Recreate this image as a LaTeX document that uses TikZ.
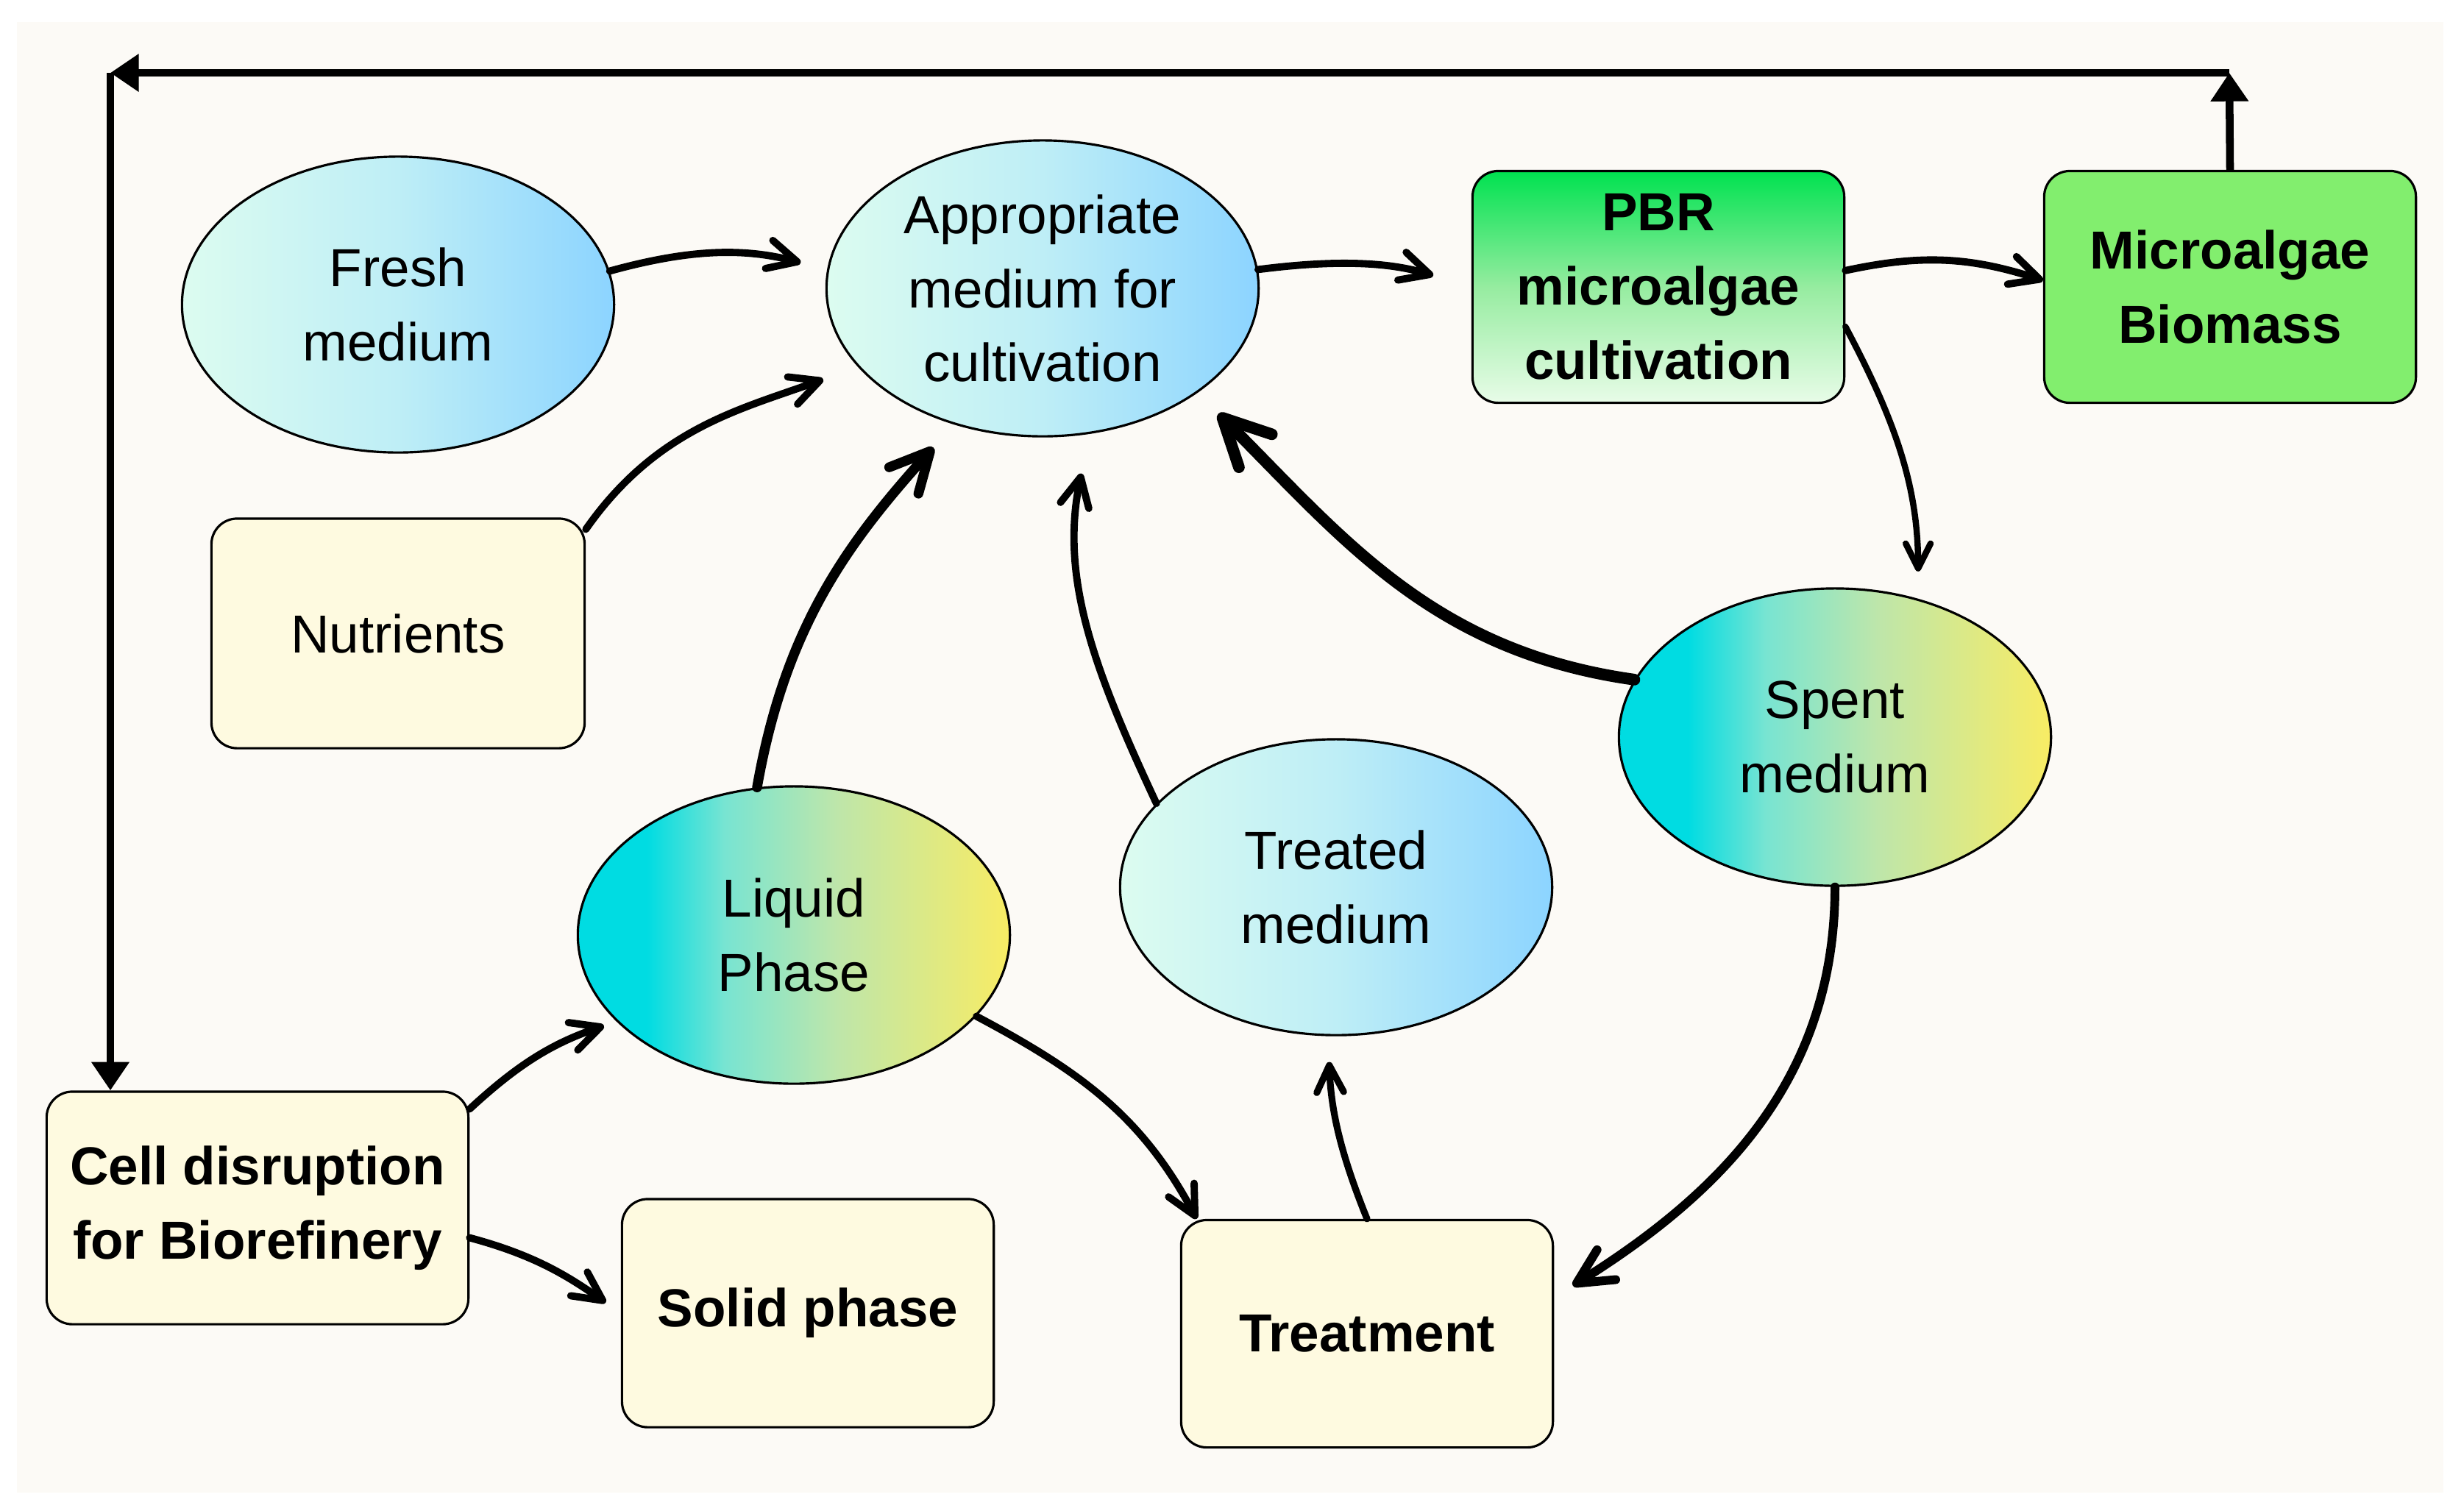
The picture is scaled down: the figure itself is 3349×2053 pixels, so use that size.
\documentclass[tikz,border=0pt]{standalone}
\usepackage{fontspec}
\setmainfont{Liberation Sans}
\usepackage{tikz}
\usetikzlibrary{arrows.meta, shapes.geometric}
\usepackage{xcolor}

\definecolor{bgpaper}{RGB}{252,250,246}
\definecolor{cream}{RGB}{254,250,224}
\definecolor{bioGreen}{RGB}{130,238,110}
\definecolor{pbrTop}{RGB}{0,226,80}
\definecolor{pbrMid}{RGB}{150,236,160}
\definecolor{pbrBot}{RGB}{232,252,232}
\definecolor{bubL}{RGB}{220,252,240}
\definecolor{bubM}{RGB}{190,238,246}
\definecolor{bubR}{RGB}{140,212,255}
\definecolor{spentA}{RGB}{0,220,226}
\definecolor{spentB}{RGB}{120,228,210}
\definecolor{spentC}{RGB}{190,230,170}
\definecolor{spentD}{RGB}{248,236,100}

\pgfdeclarehorizontalshading{spentshade}{100bp}{color(0bp)=(spentA); color(25bp)=(spentA); color(33bp)=(spentA); color(42bp)=(spentB); color(55bp)=(spentC); color(75bp)=(spentD); color(100bp)=(spentD)}

\begin{document}
\begin{tikzpicture}[x=0.01cm, y=-0.01cm,
    font=\fontsize{20.7}{28.7}\selectfont,
    bluebub/.style={ellipse, draw, line width=0.9pt, inner sep=0pt, align=center,
        minimum width=5.87cm, minimum height=4.02cm,
        left color=bubL, right color=bubR, middle color=bubM},
    spentbub/.style={ellipse, draw, line width=0.9pt, inner sep=0pt, align=center,
        minimum width=5.87cm, minimum height=4.04cm, shading=spentshade},
    creambox/.style={rectangle, rounded corners=0.35cm, draw, line width=0.9pt,
        inner sep=0pt, align=center, fill=cream,
        minimum width=5.05cm, minimum height=3.1cm},
    flow/.style={line width=2.8pt, line cap=round,
        -{Straight Barb[length=0pt 4, width=0pt 4, round]}},
    loopline/.style={line width=3pt, -{Triangle[length=11pt, width=14pt]}}]

    % Khung nen
    \useasboundingbox (0,0) rectangle (3349,2053);
    \fill[white] (0,0) rectangle (3349,2053);
    \fill[bgpaper] (23,30) rectangle (3321,2029);

    % Cac hinh elip
    \node[bluebub] (fresh) at (541,414) {Fresh\\medium};
    \node[bluebub] (approp) at (1417,392) {Appropriate\\medium for\\cultivation};
    \node[bluebub] (treated) at (1816,1206) {Treated\\medium};
    \node[spentbub] (spent) at (2494,1002) {Spent\\medium};
    \node[spentbub] (liquid) at (1079,1271) {Liquid\\Phase};

    % Cac hop chu nhat
    \node[creambox, draw, top color=pbrTop, bottom color=pbrBot, middle color=pbrMid,
        minimum height=3.15cm, font=\fontsize{20.7}{28.7}\selectfont\bfseries]
        (pbr) at (2254,390) {PBR\\microalgae\\cultivation};
    \node[creambox, fill=bioGreen, minimum height=3.15cm,
        font=\fontsize{20.7}{28.7}\selectfont\bfseries]
        (bio) at (3031,390) {Microalgae\\Biomass};
    \node[creambox, minimum width=5.07cm, minimum height=3.12cm] (nutri) at (541,861) {Nutrients};
    \node[creambox, minimum width=5.73cm, minimum height=3.16cm,
        font=\fontsize{20.7}{28.7}\selectfont\bfseries]
        (cell) at (350,1642) {Cell disruption\\for Biorefinery};
    \node[creambox, font=\fontsize{20.7}{28.7}\selectfont\bfseries]
        (solid) at (1098,1785) {Solid phase};
    \node[creambox, minimum height=3.09cm, font=\fontsize{20.7}{28.7}\selectfont\bfseries]
        (treat) at (1858,1813) {Treatment};

    % Vong hoi luu phia tren
    \coordinate (cornerR) at (3030,99);
    \coordinate (cornerL) at (150,99);
    \draw[loopline] (bio.north) -- (cornerR);
    \draw[loopline] (cornerR) -- (cornerL);
    \draw[loopline] (cornerL) -- (cornerL |- cell.north);

    % Cac mui ten cong
    \draw[flow, shorten >=0.37cm] (fresh.9) to[bend left=15] (approp.175);
    \draw[flow, shorten >=0.5cm] (nutri.29) to[out=55, in=200] (approp.203);
    \draw[flow, shorten >=0.54cm] (approp.5) to[bend left=12] (pbr.west);
    \draw[flow] (pbr.5) to[bend left=15] (bio.178);
    \draw[flow, line width=2.4pt, shorten >=0.37cm] (pbr.-12) to[out=-62, in=90] (spent.59);
    \draw[flow, line width=4.5pt, shorten >=0.4cm] (spent.164) to[out=172, in=-45] (approp.-34);
    \draw[flow, line width=3.8pt, shorten >=0.42cm] (liquid.104) to[out=80, in=228] (approp.237);
    \draw[flow, shorten >=0.55cm] (treated.155) to[out=115, in=-102] (approp.-72);
    \draw[flow, line width=3.4pt, shorten >=0.3cm] (spent.south) to[out=-90, in=32] (treat.11);
    \draw[flow, line width=2.6pt, shorten >=0.35cm] (treat.north) to[bend left=10] (treated.-93);
    \draw[flow] (liquid.-24) to[out=-28, in=118] (treat.146);
    \draw[flow, shorten >=0.18cm] (cell.25) to[bend left=12] (liquid.206);
    \draw[flow, shorten >=0.25cm] (cell.-8) to[out=-15, in=145] (solid.west);
\end{tikzpicture}
\end{document}
